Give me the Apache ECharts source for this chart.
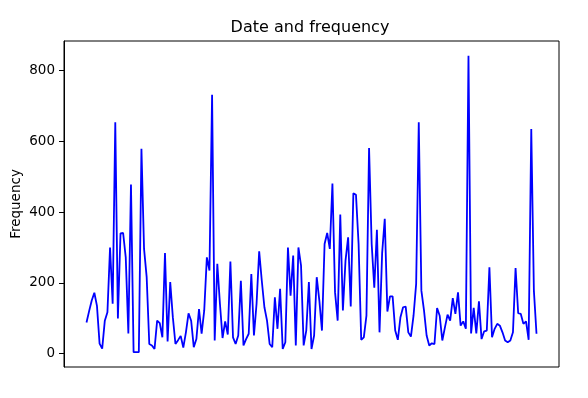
<!DOCTYPE html>
<html lang="en">
<head>
    <meta charset="UTF-8">
    <title>Date and frequency</title>
    <script src="https://cdn.jsdelivr.net/npm/echarts@6/dist/echarts.min.js"></script>
    <style>
        html, body { margin: 0; padding: 0; background: #fff; }
    </style>
</head>
<body>
<div id="main" style="width: 588px;height:398px;"></div>
<script>
    // daily frequency values (dates are not shown on the axis)
    var frequency = [
        88, 120, 150, 172, 135, 28, 14, 93, 117, 300, 141, 654, 99, 340, 341, 272, 57, 478, 4, 4,
        4, 579, 296, 216, 27, 23, 13, 93, 86, 46, 284, 34, 202, 103, 27, 38, 50, 17, 60, 114,
        93, 18, 41, 126, 56, 122, 272, 235, 732, 37, 254, 141, 44, 91, 54, 260, 46, 27, 51, 206,
        23, 41, 56, 225, 51, 141, 289, 206, 131, 93, 27, 18, 159, 70, 183, 13, 32, 300, 164, 277,
        23, 300, 249, 23, 65, 202, 13, 51, 216, 150, 65, 310, 341, 296, 481, 173, 93, 393, 122, 263,
        329, 133, 453, 449, 310, 39, 46, 107, 581, 310, 186, 350, 60, 284, 381, 119, 162, 162, 65, 39,
        103, 131, 133, 60, 48, 107, 197, 654, 178, 122, 51, 23, 29, 27, 129, 107, 37, 74, 110, 93,
        157, 112, 173, 79, 91, 70, 842, 57, 129, 57, 148, 41, 63, 65, 244, 46, 70, 84, 79, 60,
        37, 32, 37, 60, 242, 114, 112, 84, 91, 39, 635, 178, 56
    ];
    var yTicks = [0, 200, 400, 600, 800];

    var points = frequency.map(function (v, i) { return [i, v]; });
    var n = frequency.length - 1;
    var font = 'DejaVu Sans';

    var myChart = echarts.init(document.getElementById('main'), null, {renderer: 'canvas'});
    myChart.setOption({
        animation: false,
        title: {
            text: 'Date and frequency',
            left: 305,
            top: 15,
            textAlign: 'center',
            textStyle: {fontFamily: font, fontSize: 16, fontWeight: 'normal', color: '#000'}
        },
        grid: {
            left: 64, right: 29, top: 41, bottom: 31,
            outerBoundsMode: 'none',
            containLabel: false,
            show: true, borderColor: '#000', borderWidth: 1
        },
        xAxis: {
            type: 'value',
            min: -0.05 * n,
            max: n * 1.05,
            show: false
        },
        yAxis: {
            type: 'value',
            min: -38,
            max: 884,
            name: 'Frequency',
            nameLocation: 'middle',
            nameGap: 41,
            nameMoveOverlap: false,
            nameTextStyle: {fontFamily: font, fontSize: 13.5, color: '#000'},
            splitLine: {show: false},
            axisLine: {show: true, onZero: false, lineStyle: {color: '#000', width: 1}},
            axisTick: {show: true, length: 5, inside: false, customValues: yTicks, lineStyle: {color: '#000'}},
            axisLabel: {
                customValues: yTicks,
                margin: 9,
                fontFamily: font,
                fontSize: 13.5,
                color: '#000'
            }
        },
        series: [{
            type: 'line',
            data: points,
            showSymbol: false,
            symbol: 'none',
            lineStyle: {color: '#0000ff', width: 1.8},
            itemStyle: {color: '#0000ff'}
        }]
    });
</script>
</body>
</html>
